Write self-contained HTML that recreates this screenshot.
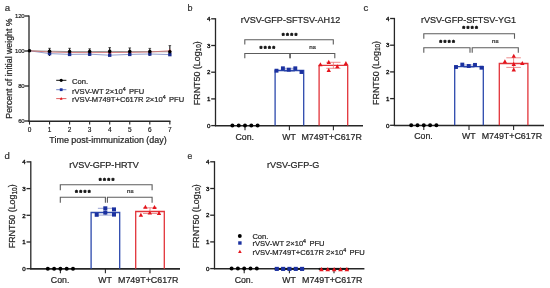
<!DOCTYPE html>
<html><head><meta charset="utf-8"><style>
html,body{margin:0;padding:0;background:#fff;}
body{width:550px;height:288px;overflow:hidden;}
svg{display:block;font-family:'Liberation Sans', Arial, Helvetica, sans-serif;}
</style></head><body>
<svg width="550" height="288" viewBox="0 0 550 288">
<rect width="550" height="288" fill="#fff"/>
<text x="4.80" y="10.50" font-size="9.6" text-anchor="start" fill="#333"  stroke="#333" stroke-width="0.22">a</text>
<line x1="29.00" y1="15.40" x2="29.00" y2="121.60" stroke="#262626" stroke-width="1.3"/>
<line x1="24.60" y1="16.00" x2="29.00" y2="16.00" stroke="#262626" stroke-width="1.3"/>
<text x="24.50" y="18.10" font-size="6.0" text-anchor="end" fill="#111" letter-spacing="-0.2" stroke="#111" stroke-width="0.15">120</text>
<line x1="24.60" y1="51.00" x2="29.00" y2="51.00" stroke="#262626" stroke-width="1.3"/>
<text x="24.50" y="53.10" font-size="6.0" text-anchor="end" fill="#111" letter-spacing="-0.2" stroke="#111" stroke-width="0.15">100</text>
<line x1="24.60" y1="86.00" x2="29.00" y2="86.00" stroke="#262626" stroke-width="1.3"/>
<text x="24.50" y="88.10" font-size="6.0" text-anchor="end" fill="#111" letter-spacing="-0.2" stroke="#111" stroke-width="0.15">80</text>
<line x1="24.60" y1="121.00" x2="29.00" y2="121.00" stroke="#262626" stroke-width="1.3"/>
<text x="24.50" y="123.10" font-size="6.0" text-anchor="end" fill="#111" letter-spacing="-0.2" stroke="#111" stroke-width="0.15">60</text>
<line x1="28.40" y1="121.20" x2="170.45" y2="121.20" stroke="#262626" stroke-width="1.6"/>
<line x1="29.50" y1="121.00" x2="29.50" y2="124.60" stroke="#262626" stroke-width="1.1"/>
<text x="29.50" y="131.50" font-size="6.5" text-anchor="middle" fill="#111" stroke="#111" stroke-width="0.15">0</text>
<line x1="49.55" y1="121.00" x2="49.55" y2="124.60" stroke="#262626" stroke-width="1.1"/>
<text x="49.55" y="131.50" font-size="6.5" text-anchor="middle" fill="#111" stroke="#111" stroke-width="0.15">1</text>
<line x1="69.60" y1="121.00" x2="69.60" y2="124.60" stroke="#262626" stroke-width="1.1"/>
<text x="69.60" y="131.50" font-size="6.5" text-anchor="middle" fill="#111" stroke="#111" stroke-width="0.15">2</text>
<line x1="89.65" y1="121.00" x2="89.65" y2="124.60" stroke="#262626" stroke-width="1.1"/>
<text x="89.65" y="131.50" font-size="6.5" text-anchor="middle" fill="#111" stroke="#111" stroke-width="0.15">3</text>
<line x1="109.70" y1="121.00" x2="109.70" y2="124.60" stroke="#262626" stroke-width="1.1"/>
<text x="109.70" y="131.50" font-size="6.5" text-anchor="middle" fill="#111" stroke="#111" stroke-width="0.15">4</text>
<line x1="129.75" y1="121.00" x2="129.75" y2="124.60" stroke="#262626" stroke-width="1.1"/>
<text x="129.75" y="131.50" font-size="6.5" text-anchor="middle" fill="#111" stroke="#111" stroke-width="0.15">5</text>
<line x1="149.80" y1="121.00" x2="149.80" y2="124.60" stroke="#262626" stroke-width="1.1"/>
<text x="149.80" y="131.50" font-size="6.5" text-anchor="middle" fill="#111" stroke="#111" stroke-width="0.15">6</text>
<line x1="169.85" y1="121.00" x2="169.85" y2="124.60" stroke="#262626" stroke-width="1.1"/>
<text x="169.85" y="131.50" font-size="6.5" text-anchor="middle" fill="#111" stroke="#111" stroke-width="0.15">7</text>
<text x="108.05" y="142.50" font-size="8.95" text-anchor="middle" fill="#262626"  stroke="#262626" stroke-width="0.22">Time post-immunization (day)</text>
<text transform="translate(11.7,68.55) rotate(-90)" font-size="8.75" text-anchor="middle" fill="#262626" stroke="#262626" stroke-width="0.22">Percent of initial weight %</text>
<polyline points="29.50,50.80 49.55,53.60 69.60,54.40 89.65,54.20 109.70,55.20 129.75,54.40 149.80,54.00 169.85,54.60" fill="none" stroke="#8593c8" stroke-width="0.9"/>
<polyline points="29.50,50.80 49.55,51.20 69.60,51.60 89.65,51.60 109.70,51.40 129.75,51.60 149.80,51.60 169.85,51.80" fill="none" stroke="#8a8a8a" stroke-width="0.9"/>
<polyline points="29.50,50.80 49.55,52.00 69.60,52.50 89.65,52.60 109.70,52.50 129.75,52.40 149.80,52.00 169.85,50.80" fill="none" stroke="#cf7070" stroke-width="0.9"/>
<line x1="49.55" y1="48.30" x2="49.55" y2="56.00" stroke="#111" stroke-width="1.1"/>
<line x1="48.25" y1="48.30" x2="50.85" y2="48.30" stroke="#333" stroke-width="0.8"/>
<polygon points="49.55,50.23 51.15,53.18 47.95,53.18" fill="#e4141c"/>
<rect x="47.85" y="51.90" width="3.4" height="3.4" fill="#1a2c8c"/>
<circle cx="49.55" cy="51.20" r="1.8" fill="#000"/>
<line x1="69.60" y1="48.30" x2="69.60" y2="56.00" stroke="#111" stroke-width="1.1"/>
<line x1="68.30" y1="48.30" x2="70.90" y2="48.30" stroke="#333" stroke-width="0.8"/>
<polygon points="69.60,50.73 71.20,53.68 68.00,53.68" fill="#e4141c"/>
<rect x="67.90" y="52.70" width="3.4" height="3.4" fill="#1a2c8c"/>
<circle cx="69.60" cy="51.60" r="1.8" fill="#000"/>
<line x1="89.65" y1="48.80" x2="89.65" y2="56.00" stroke="#111" stroke-width="1.1"/>
<line x1="88.35" y1="48.80" x2="90.95" y2="48.80" stroke="#333" stroke-width="0.8"/>
<polygon points="89.65,50.83 91.25,53.78 88.05,53.78" fill="#e4141c"/>
<rect x="87.95" y="52.50" width="3.4" height="3.4" fill="#1a2c8c"/>
<circle cx="89.65" cy="51.60" r="1.8" fill="#000"/>
<line x1="109.70" y1="47.60" x2="109.70" y2="56.00" stroke="#111" stroke-width="1.1"/>
<line x1="108.40" y1="47.60" x2="111.00" y2="47.60" stroke="#333" stroke-width="0.8"/>
<polygon points="109.70,50.73 111.30,53.68 108.10,53.68" fill="#e4141c"/>
<rect x="108.00" y="53.50" width="3.4" height="3.4" fill="#1a2c8c"/>
<circle cx="109.70" cy="51.40" r="1.8" fill="#000"/>
<line x1="129.75" y1="47.90" x2="129.75" y2="56.00" stroke="#111" stroke-width="1.1"/>
<line x1="128.45" y1="47.90" x2="131.05" y2="47.90" stroke="#333" stroke-width="0.8"/>
<polygon points="129.75,50.63 131.35,53.58 128.15,53.58" fill="#e4141c"/>
<rect x="128.05" y="52.70" width="3.4" height="3.4" fill="#1a2c8c"/>
<circle cx="129.75" cy="51.60" r="1.8" fill="#000"/>
<line x1="149.80" y1="48.40" x2="149.80" y2="56.00" stroke="#111" stroke-width="1.1"/>
<line x1="148.50" y1="48.40" x2="151.10" y2="48.40" stroke="#333" stroke-width="0.8"/>
<polygon points="149.80,50.23 151.40,53.18 148.20,53.18" fill="#e4141c"/>
<rect x="148.10" y="52.30" width="3.4" height="3.4" fill="#1a2c8c"/>
<circle cx="149.80" cy="51.60" r="1.8" fill="#000"/>
<line x1="169.85" y1="45.60" x2="169.85" y2="56.00" stroke="#111" stroke-width="1.1"/>
<line x1="168.55" y1="45.60" x2="171.15" y2="45.60" stroke="#333" stroke-width="0.8"/>
<polygon points="169.85,49.03 171.45,51.98 168.25,51.98" fill="#e4141c"/>
<rect x="168.15" y="52.90" width="3.4" height="3.4" fill="#1a2c8c"/>
<circle cx="169.85" cy="51.80" r="1.8" fill="#000"/>
<circle cx="29.50" cy="50.80" r="1.8" fill="#000"/>
<line x1="56.20" y1="80.30" x2="66.40" y2="80.30" stroke="#111" stroke-width="1.0"/>
<circle cx="61.20" cy="80.30" r="1.6" fill="#000"/>
<text x="72.00" y="84.00" font-size="7.6" text-anchor="start" fill="#262626"  stroke="#262626" stroke-width="0.22">Con.</text>
<line x1="56.20" y1="89.70" x2="66.40" y2="89.70" stroke="#6f83c6" stroke-width="1.0"/>
<rect x="59.80" y="88.30" width="2.8" height="2.8" fill="#1b31a0"/>
<text x="72.00" y="93.60" font-size="7.6" text-anchor="start" fill="#262626"  stroke="#262626" stroke-width="0.22">rVSV-WT 2×10<tspan dy="-3.0" font-size="5.3">4</tspan><tspan dy="3.0" dx="1.2"> PFU</tspan></text>
<line x1="56.20" y1="98.60" x2="66.40" y2="98.60" stroke="#e06060" stroke-width="1.0"/>
<polygon points="61.20,97.05 62.60,99.63 59.80,99.63" fill="#e4141c"/>
<text x="72.00" y="102.40" font-size="7.6" text-anchor="start" fill="#262626"  stroke="#262626" stroke-width="0.22">rVSV-M749T+C617R 2×10<tspan dy="-3.0" font-size="5.3">4</tspan><tspan dy="3.0" dx="1.2"> PFU</tspan></text>
<text x="187.50" y="10.50" font-size="9.0" text-anchor="start" fill="#333"  stroke="#333" stroke-width="0.22">b</text>
<text x="290.45" y="22.90" font-size="9.05" text-anchor="middle" fill="#262626"  stroke="#262626" stroke-width="0.22">rVSV-GFP-SFTSV-AH12</text>
<line x1="215.50" y1="18.20" x2="215.50" y2="126.20" stroke="#262626" stroke-width="1.3"/>
<line x1="211.20" y1="125.60" x2="215.50" y2="125.60" stroke="#262626" stroke-width="1.3"/>
<text x="210.50" y="127.80" font-size="6.2" text-anchor="end" fill="#111" stroke="#111" stroke-width="0.35">0</text>
<line x1="211.20" y1="98.90" x2="215.50" y2="98.90" stroke="#262626" stroke-width="1.3"/>
<text x="210.50" y="101.10" font-size="6.2" text-anchor="end" fill="#111" stroke="#111" stroke-width="0.35">1</text>
<line x1="211.20" y1="72.20" x2="215.50" y2="72.20" stroke="#262626" stroke-width="1.3"/>
<text x="210.50" y="74.40" font-size="6.2" text-anchor="end" fill="#111" stroke="#111" stroke-width="0.35">2</text>
<line x1="211.20" y1="45.50" x2="215.50" y2="45.50" stroke="#262626" stroke-width="1.3"/>
<text x="210.50" y="47.70" font-size="6.2" text-anchor="end" fill="#111" stroke="#111" stroke-width="0.35">3</text>
<line x1="211.20" y1="18.80" x2="215.50" y2="18.80" stroke="#262626" stroke-width="1.3"/>
<text x="210.50" y="21.00" font-size="6.2" text-anchor="end" fill="#111" stroke="#111" stroke-width="0.35">4</text>
<text transform="translate(199.70,73.20) rotate(-90)" font-size="8.9" text-anchor="middle" fill="#262626" stroke="#262626" stroke-width="0.22">FRNT50 (Log<tspan font-size="6.5" dy="1.6">10</tspan><tspan dy="-1.6">)</tspan></text>
<line x1="214.90" y1="125.75" x2="363.00" y2="125.75" stroke="#262626" stroke-width="1.6"/>
<line x1="245.00" y1="125.60" x2="245.00" y2="130.20" stroke="#262626" stroke-width="1.1"/>
<line x1="289.40" y1="125.60" x2="289.40" y2="130.20" stroke="#262626" stroke-width="1.1"/>
<line x1="333.40" y1="125.60" x2="333.40" y2="130.20" stroke="#262626" stroke-width="1.1"/>
<text x="244.70" y="139.50" font-size="8.75" text-anchor="middle" fill="#262626"  stroke="#262626" stroke-width="0.22">Con.</text>
<text x="289.10" y="139.50" font-size="8.75" text-anchor="middle" fill="#262626"  stroke="#262626" stroke-width="0.22">WT</text>
<text x="331.65" y="139.50" font-size="8.9" text-anchor="middle" fill="#262626"  stroke="#262626" stroke-width="0.22">M749T+C617R</text>
<circle cx="232.40" cy="125.60" r="2.0" fill="#000"/>
<circle cx="238.70" cy="125.60" r="2.0" fill="#000"/>
<circle cx="245.00" cy="125.60" r="2.0" fill="#000"/>
<circle cx="251.30" cy="125.60" r="2.0" fill="#000"/>
<circle cx="257.60" cy="125.60" r="2.0" fill="#000"/>
<polyline points="275.10,125.60 275.10,70.50 303.70,70.50 303.70,125.60" fill="none" stroke="#2c49ad" stroke-width="1.3"/>
<polyline points="319.10,125.60 319.10,65.40 347.70,65.40 347.70,125.60" fill="none" stroke="#e2343a" stroke-width="1.3"/>
<line x1="289.40" y1="68.30" x2="289.40" y2="71.50" stroke="#7d8cc6" stroke-width="0.8"/>
<line x1="283.90" y1="68.30" x2="294.90" y2="68.30" stroke="#7d8cc6" stroke-width="0.8"/>
<line x1="283.90" y1="71.50" x2="294.90" y2="71.50" stroke="#7d8cc6" stroke-width="0.8"/>
<line x1="333.40" y1="62.30" x2="333.40" y2="68.30" stroke="#e77272" stroke-width="0.8"/>
<line x1="326.30" y1="62.30" x2="340.50" y2="62.30" stroke="#e77272" stroke-width="0.8"/>
<line x1="326.30" y1="68.30" x2="340.50" y2="68.30" stroke="#e77272" stroke-width="0.8"/>
<rect x="274.55" y="68.75" width="3.9" height="3.9" fill="#1b31a0"/>
<rect x="280.95" y="66.35" width="3.9" height="3.9" fill="#1b31a0"/>
<rect x="286.85" y="67.75" width="3.9" height="3.9" fill="#1b31a0"/>
<rect x="293.35" y="66.35" width="3.9" height="3.9" fill="#1b31a0"/>
<rect x="299.55" y="70.05" width="3.9" height="3.9" fill="#1b31a0"/>
<polygon points="320.40,62.17 322.60,66.22 318.20,66.22" fill="#e4141c"/>
<polygon points="328.75,59.87 330.95,63.92 326.55,63.92" fill="#e4141c"/>
<polygon points="328.75,67.97 330.95,72.02 326.55,72.02" fill="#e4141c"/>
<polygon points="337.30,64.27 339.50,68.32 335.10,68.32" fill="#e4141c"/>
<polygon points="345.90,61.07 348.10,65.12 343.70,65.12" fill="#e4141c"/>
<polyline points="244.80,44.60 244.80,39.80 333.30,39.80 333.30,44.60" fill="none" stroke="#5c5c5c" stroke-width="1.1"/>
<polyline points="244.80,58.30 244.80,53.50 289.80,53.50 289.80,58.30" fill="none" stroke="#5c5c5c" stroke-width="1.1"/>
<polyline points="290.30,58.30 290.30,53.50 334.80,53.50 334.80,58.30" fill="none" stroke="#5c5c5c" stroke-width="1.1"/>
<text x="290.16" y="37.70" font-size="7.5" text-anchor="middle" fill="#111" font-weight="bold" letter-spacing="1.33" stroke="#111" stroke-width="0.55" stroke-linejoin="round">****</text>
<text x="267.96" y="51.20" font-size="7.5" text-anchor="middle" fill="#111" font-weight="bold" letter-spacing="1.33" stroke="#111" stroke-width="0.55" stroke-linejoin="round">****</text>
<text x="312.60" y="49.00" font-size="6.2" text-anchor="middle" fill="#222"  stroke="#222" stroke-width="0.22">ns</text>
<text x="363.40" y="10.50" font-size="9.5" text-anchor="start" fill="#333"  stroke="#333" stroke-width="0.22">c</text>
<text x="468.50" y="23.10" font-size="9.05" text-anchor="middle" fill="#262626"  stroke="#262626" stroke-width="0.22">rVSV-GFP-SFTSV-YG1</text>
<line x1="394.40" y1="17.90" x2="394.40" y2="125.90" stroke="#262626" stroke-width="1.3"/>
<line x1="390.10" y1="125.30" x2="394.40" y2="125.30" stroke="#262626" stroke-width="1.3"/>
<text x="389.40" y="127.50" font-size="6.2" text-anchor="end" fill="#111" stroke="#111" stroke-width="0.35">0</text>
<line x1="390.10" y1="98.60" x2="394.40" y2="98.60" stroke="#262626" stroke-width="1.3"/>
<text x="389.40" y="100.80" font-size="6.2" text-anchor="end" fill="#111" stroke="#111" stroke-width="0.35">1</text>
<line x1="390.10" y1="71.90" x2="394.40" y2="71.90" stroke="#262626" stroke-width="1.3"/>
<text x="389.40" y="74.10" font-size="6.2" text-anchor="end" fill="#111" stroke="#111" stroke-width="0.35">2</text>
<line x1="390.10" y1="45.20" x2="394.40" y2="45.20" stroke="#262626" stroke-width="1.3"/>
<text x="389.40" y="47.40" font-size="6.2" text-anchor="end" fill="#111" stroke="#111" stroke-width="0.35">3</text>
<line x1="390.10" y1="18.50" x2="394.40" y2="18.50" stroke="#262626" stroke-width="1.3"/>
<text x="389.40" y="20.70" font-size="6.2" text-anchor="end" fill="#111" stroke="#111" stroke-width="0.35">4</text>
<text transform="translate(378.60,72.90) rotate(-90)" font-size="8.9" text-anchor="middle" fill="#262626" stroke="#262626" stroke-width="0.22">FRNT50 (Log<tspan font-size="6.5" dy="1.6">10</tspan><tspan dy="-1.6">)</tspan></text>
<line x1="393.80" y1="125.45" x2="544.00" y2="125.45" stroke="#262626" stroke-width="1.6"/>
<line x1="423.80" y1="125.30" x2="423.80" y2="129.90" stroke="#262626" stroke-width="1.1"/>
<line x1="469.00" y1="125.30" x2="469.00" y2="129.90" stroke="#262626" stroke-width="1.1"/>
<line x1="513.60" y1="125.30" x2="513.60" y2="129.90" stroke="#262626" stroke-width="1.1"/>
<text x="423.50" y="139.20" font-size="8.75" text-anchor="middle" fill="#262626"  stroke="#262626" stroke-width="0.22">Con.</text>
<text x="468.70" y="139.20" font-size="8.75" text-anchor="middle" fill="#262626"  stroke="#262626" stroke-width="0.22">WT</text>
<text x="511.85" y="139.20" font-size="8.9" text-anchor="middle" fill="#262626"  stroke="#262626" stroke-width="0.22">M749T+C617R</text>
<circle cx="411.20" cy="125.30" r="2.0" fill="#000"/>
<circle cx="417.50" cy="125.30" r="2.0" fill="#000"/>
<circle cx="423.80" cy="125.30" r="2.0" fill="#000"/>
<circle cx="430.10" cy="125.30" r="2.0" fill="#000"/>
<circle cx="436.40" cy="125.30" r="2.0" fill="#000"/>
<polyline points="454.70,125.30 454.70,66.70 483.30,66.70 483.30,125.30" fill="none" stroke="#2c49ad" stroke-width="1.3"/>
<polyline points="499.30,125.30 499.30,63.50 527.90,63.50 527.90,125.30" fill="none" stroke="#e2343a" stroke-width="1.3"/>
<line x1="469.00" y1="65.00" x2="469.00" y2="67.50" stroke="#7d8cc6" stroke-width="0.8"/>
<line x1="463.50" y1="65.00" x2="474.50" y2="65.00" stroke="#7d8cc6" stroke-width="0.8"/>
<line x1="463.50" y1="67.50" x2="474.50" y2="67.50" stroke="#7d8cc6" stroke-width="0.8"/>
<line x1="513.60" y1="57.80" x2="513.60" y2="67.40" stroke="#e77272" stroke-width="0.8"/>
<line x1="506.30" y1="57.80" x2="520.90" y2="57.80" stroke="#e77272" stroke-width="0.8"/>
<line x1="506.30" y1="67.40" x2="520.90" y2="67.40" stroke="#e77272" stroke-width="0.8"/>
<rect x="454.05" y="65.05" width="3.9" height="3.9" fill="#1b31a0"/>
<rect x="460.35" y="62.65" width="3.9" height="3.9" fill="#1b31a0"/>
<rect x="466.80" y="64.05" width="3.9" height="3.9" fill="#1b31a0"/>
<rect x="473.05" y="62.95" width="3.9" height="3.9" fill="#1b31a0"/>
<rect x="479.55" y="65.75" width="3.9" height="3.9" fill="#1b31a0"/>
<polygon points="504.90,59.27 507.10,63.32 502.70,63.32" fill="#e4141c"/>
<polygon points="513.75,53.82 515.95,57.87 511.55,57.87" fill="#e4141c"/>
<polygon points="513.75,61.87 515.95,65.92 511.55,65.92" fill="#e4141c"/>
<polygon points="513.75,67.37 515.95,71.42 511.55,71.42" fill="#e4141c"/>
<polygon points="522.30,61.07 524.50,65.12 520.10,65.12" fill="#e4141c"/>
<polyline points="423.80,38.80 423.80,33.70 514.50,33.70 514.50,38.80" fill="none" stroke="#5c5c5c" stroke-width="1.1"/>
<polyline points="423.80,52.80 423.80,47.70 470.00,47.70 470.00,52.80" fill="none" stroke="#5c5c5c" stroke-width="1.1"/>
<polyline points="472.20,52.80 472.20,47.70 518.30,47.70 518.30,52.80" fill="none" stroke="#5c5c5c" stroke-width="1.1"/>
<text x="470.66" y="31.30" font-size="7.5" text-anchor="middle" fill="#111" font-weight="bold" letter-spacing="1.33" stroke="#111" stroke-width="0.55" stroke-linejoin="round">****</text>
<text x="447.66" y="45.40" font-size="7.5" text-anchor="middle" fill="#111" font-weight="bold" letter-spacing="1.33" stroke="#111" stroke-width="0.55" stroke-linejoin="round">****</text>
<text x="495.30" y="43.40" font-size="6.2" text-anchor="middle" fill="#222"  stroke="#222" stroke-width="0.22">ns</text>
<text x="4.50" y="158.50" font-size="9.5" text-anchor="start" fill="#333"  stroke="#333" stroke-width="0.22">d</text>
<text x="104.00" y="167.80" font-size="9.05" text-anchor="middle" fill="#262626"  stroke="#262626" stroke-width="0.22">rVSV-GFP-HRTV</text>
<line x1="30.80" y1="161.30" x2="30.80" y2="269.30" stroke="#262626" stroke-width="1.3"/>
<line x1="26.50" y1="268.70" x2="30.80" y2="268.70" stroke="#262626" stroke-width="1.3"/>
<text x="25.80" y="270.90" font-size="6.2" text-anchor="end" fill="#111" stroke="#111" stroke-width="0.35">0</text>
<line x1="26.50" y1="242.00" x2="30.80" y2="242.00" stroke="#262626" stroke-width="1.3"/>
<text x="25.80" y="244.20" font-size="6.2" text-anchor="end" fill="#111" stroke="#111" stroke-width="0.35">1</text>
<line x1="26.50" y1="215.30" x2="30.80" y2="215.30" stroke="#262626" stroke-width="1.3"/>
<text x="25.80" y="217.50" font-size="6.2" text-anchor="end" fill="#111" stroke="#111" stroke-width="0.35">2</text>
<line x1="26.50" y1="188.60" x2="30.80" y2="188.60" stroke="#262626" stroke-width="1.3"/>
<text x="25.80" y="190.80" font-size="6.2" text-anchor="end" fill="#111" stroke="#111" stroke-width="0.35">3</text>
<line x1="26.50" y1="161.90" x2="30.80" y2="161.90" stroke="#262626" stroke-width="1.3"/>
<text x="25.80" y="164.10" font-size="6.2" text-anchor="end" fill="#111" stroke="#111" stroke-width="0.35">4</text>
<text transform="translate(15.00,216.30) rotate(-90)" font-size="8.9" text-anchor="middle" fill="#262626" stroke="#262626" stroke-width="0.22">FRNT50 (Log<tspan font-size="6.5" dy="1.6">10</tspan><tspan dy="-1.6">)</tspan></text>
<line x1="30.20" y1="268.85" x2="180.00" y2="268.85" stroke="#262626" stroke-width="1.6"/>
<line x1="60.40" y1="268.70" x2="60.40" y2="273.30" stroke="#262626" stroke-width="1.1"/>
<line x1="105.40" y1="268.70" x2="105.40" y2="273.30" stroke="#262626" stroke-width="1.1"/>
<line x1="150.00" y1="268.70" x2="150.00" y2="273.30" stroke="#262626" stroke-width="1.1"/>
<text x="60.10" y="282.60" font-size="8.75" text-anchor="middle" fill="#262626"  stroke="#262626" stroke-width="0.22">Con.</text>
<text x="105.10" y="282.60" font-size="8.75" text-anchor="middle" fill="#262626"  stroke="#262626" stroke-width="0.22">WT</text>
<text x="148.25" y="282.60" font-size="8.9" text-anchor="middle" fill="#262626"  stroke="#262626" stroke-width="0.22">M749T+C617R</text>
<circle cx="47.80" cy="268.70" r="2.0" fill="#000"/>
<circle cx="54.10" cy="268.70" r="2.0" fill="#000"/>
<circle cx="60.40" cy="268.70" r="2.0" fill="#000"/>
<circle cx="66.70" cy="268.70" r="2.0" fill="#000"/>
<circle cx="73.00" cy="268.70" r="2.0" fill="#000"/>
<polyline points="91.10,268.70 91.10,212.50 119.70,212.50 119.70,268.70" fill="none" stroke="#2c49ad" stroke-width="1.3"/>
<polyline points="135.70,268.70 135.70,211.50 164.30,211.50 164.30,268.70" fill="none" stroke="#e2343a" stroke-width="1.3"/>
<line x1="105.40" y1="208.30" x2="105.40" y2="215.10" stroke="#7d8cc6" stroke-width="0.8"/>
<line x1="97.90" y1="208.30" x2="112.90" y2="208.30" stroke="#7d8cc6" stroke-width="0.8"/>
<line x1="97.90" y1="215.10" x2="112.90" y2="215.10" stroke="#7d8cc6" stroke-width="0.8"/>
<line x1="150.00" y1="207.80" x2="150.00" y2="213.50" stroke="#e77272" stroke-width="0.8"/>
<line x1="143.00" y1="207.80" x2="157.00" y2="207.80" stroke="#e77272" stroke-width="0.8"/>
<line x1="143.00" y1="213.50" x2="157.00" y2="213.50" stroke="#e77272" stroke-width="0.8"/>
<rect x="94.70" y="212.80" width="4.0" height="4.0" fill="#1b31a0"/>
<rect x="103.30" y="206.30" width="4.0" height="4.0" fill="#1b31a0"/>
<rect x="103.30" y="210.60" width="4.0" height="4.0" fill="#1b31a0"/>
<rect x="112.00" y="207.40" width="4.0" height="4.0" fill="#1b31a0"/>
<rect x="112.00" y="212.60" width="4.0" height="4.0" fill="#1b31a0"/>
<polygon points="140.90,212.67 143.10,216.72 138.70,216.72" fill="#e4141c"/>
<polygon points="145.40,204.67 147.60,208.72 143.20,208.72" fill="#e4141c"/>
<polygon points="149.80,210.57 152.00,214.62 147.60,214.62" fill="#e4141c"/>
<polygon points="154.50,205.07 156.70,209.12 152.30,209.12" fill="#e4141c"/>
<polygon points="159.00,210.87 161.20,214.92 156.80,214.92" fill="#e4141c"/>
<polyline points="60.30,190.30 60.30,184.80 152.10,184.80 152.10,190.30" fill="none" stroke="#5c5c5c" stroke-width="1.1"/>
<polyline points="60.30,202.80 60.30,197.30 105.40,197.30 105.40,202.80" fill="none" stroke="#5c5c5c" stroke-width="1.1"/>
<polyline points="107.40,202.80 107.40,197.30 152.10,197.30 152.10,202.80" fill="none" stroke="#5c5c5c" stroke-width="1.1"/>
<text x="107.16" y="182.80" font-size="7.5" text-anchor="middle" fill="#111" font-weight="bold" letter-spacing="1.33" stroke="#111" stroke-width="0.55" stroke-linejoin="round">****</text>
<text x="83.46" y="194.90" font-size="7.5" text-anchor="middle" fill="#111" font-weight="bold" letter-spacing="1.33" stroke="#111" stroke-width="0.55" stroke-linejoin="round">****</text>
<text x="130.25" y="193.00" font-size="6.2" text-anchor="middle" fill="#222"  stroke="#222" stroke-width="0.22">ns</text>
<text x="187.50" y="159.00" font-size="8.6" text-anchor="start" fill="#333"  stroke="#333" stroke-width="0.22">e</text>
<text x="293.10" y="168.30" font-size="9.05" text-anchor="middle" fill="#262626"  stroke="#262626" stroke-width="0.22">rVSV-GFP-G</text>
<line x1="214.50" y1="161.20" x2="214.50" y2="269.20" stroke="#262626" stroke-width="1.3"/>
<line x1="210.20" y1="268.60" x2="214.50" y2="268.60" stroke="#262626" stroke-width="1.3"/>
<text x="209.50" y="270.80" font-size="6.2" text-anchor="end" fill="#111" stroke="#111" stroke-width="0.35">0</text>
<line x1="210.20" y1="241.90" x2="214.50" y2="241.90" stroke="#262626" stroke-width="1.3"/>
<text x="209.50" y="244.10" font-size="6.2" text-anchor="end" fill="#111" stroke="#111" stroke-width="0.35">1</text>
<line x1="210.20" y1="215.20" x2="214.50" y2="215.20" stroke="#262626" stroke-width="1.3"/>
<text x="209.50" y="217.40" font-size="6.2" text-anchor="end" fill="#111" stroke="#111" stroke-width="0.35">2</text>
<line x1="210.20" y1="188.50" x2="214.50" y2="188.50" stroke="#262626" stroke-width="1.3"/>
<text x="209.50" y="190.70" font-size="6.2" text-anchor="end" fill="#111" stroke="#111" stroke-width="0.35">3</text>
<line x1="210.20" y1="161.80" x2="214.50" y2="161.80" stroke="#262626" stroke-width="1.3"/>
<text x="209.50" y="164.00" font-size="6.2" text-anchor="end" fill="#111" stroke="#111" stroke-width="0.35">4</text>
<text transform="translate(198.70,216.20) rotate(-90)" font-size="8.9" text-anchor="middle" fill="#262626" stroke="#262626" stroke-width="0.22">FRNT50 (Log<tspan font-size="6.5" dy="1.6">10</tspan><tspan dy="-1.6">)</tspan></text>
<line x1="213.90" y1="268.75" x2="364.40" y2="268.75" stroke="#262626" stroke-width="1.6"/>
<line x1="244.20" y1="268.60" x2="244.20" y2="273.20" stroke="#262626" stroke-width="1.1"/>
<line x1="289.40" y1="268.60" x2="289.40" y2="273.20" stroke="#262626" stroke-width="1.1"/>
<line x1="334.00" y1="268.60" x2="334.00" y2="273.20" stroke="#262626" stroke-width="1.1"/>
<text x="243.90" y="282.50" font-size="8.75" text-anchor="middle" fill="#262626"  stroke="#262626" stroke-width="0.22">Con.</text>
<text x="289.10" y="282.50" font-size="8.75" text-anchor="middle" fill="#262626"  stroke="#262626" stroke-width="0.22">WT</text>
<text x="332.25" y="282.50" font-size="8.9" text-anchor="middle" fill="#262626"  stroke="#262626" stroke-width="0.22">M749T+C617R</text>
<circle cx="231.60" cy="268.60" r="2.0" fill="#000"/>
<circle cx="237.90" cy="268.60" r="2.0" fill="#000"/>
<circle cx="244.20" cy="268.60" r="2.0" fill="#000"/>
<circle cx="250.50" cy="268.60" r="2.0" fill="#000"/>
<circle cx="256.80" cy="268.60" r="2.0" fill="#000"/>
<line x1="274.60" y1="268.90" x2="304.20" y2="268.90" stroke="#111" stroke-width="2.0"/>
<line x1="318.70" y1="268.90" x2="349.00" y2="268.90" stroke="#111" stroke-width="2.0"/>
<rect x="274.75" y="266.85" width="4.1" height="4.1" fill="#1b31a0"/>
<polygon points="321.40,266.96 323.70,271.19 319.10,271.19" fill="#e4141c"/>
<rect x="281.07" y="266.85" width="4.1" height="4.1" fill="#1b31a0"/>
<polygon points="327.77,266.96 330.07,271.19 325.47,271.19" fill="#e4141c"/>
<rect x="287.39" y="266.85" width="4.1" height="4.1" fill="#1b31a0"/>
<polygon points="334.14,266.96 336.44,271.19 331.84,271.19" fill="#e4141c"/>
<rect x="293.71" y="266.85" width="4.1" height="4.1" fill="#1b31a0"/>
<polygon points="340.51,266.96 342.81,271.19 338.21,271.19" fill="#e4141c"/>
<rect x="300.03" y="266.85" width="4.1" height="4.1" fill="#1b31a0"/>
<polygon points="346.88,266.96 349.18,271.19 344.58,271.19" fill="#e4141c"/>
<circle cx="239.80" cy="236.00" r="1.95" fill="#000"/>
<rect x="238.20" y="241.30" width="3.4" height="3.4" fill="#1b31a0"/>
<polygon points="239.90,249.71 241.70,253.02 238.10,253.02" fill="#e4141c"/>
<text x="252.40" y="238.50" font-size="7.6" text-anchor="start" fill="#262626"  stroke="#262626" stroke-width="0.22">Con.</text>
<text x="252.40" y="246.30" font-size="7.6" text-anchor="start" fill="#262626"  stroke="#262626" stroke-width="0.22">rVSV-WT 2×10<tspan dy="-3.0" font-size="5.3">4</tspan><tspan dy="3.0" dx="1.2"> PFU</tspan></text>
<text x="252.40" y="254.50" font-size="7.6" text-anchor="start" fill="#262626"  stroke="#262626" stroke-width="0.22">rVSV-M749T+C617R 2×10<tspan dy="-3.0" font-size="5.3">4</tspan><tspan dy="3.0" dx="1.2"> PFU</tspan></text>
</svg>
</body></html>
